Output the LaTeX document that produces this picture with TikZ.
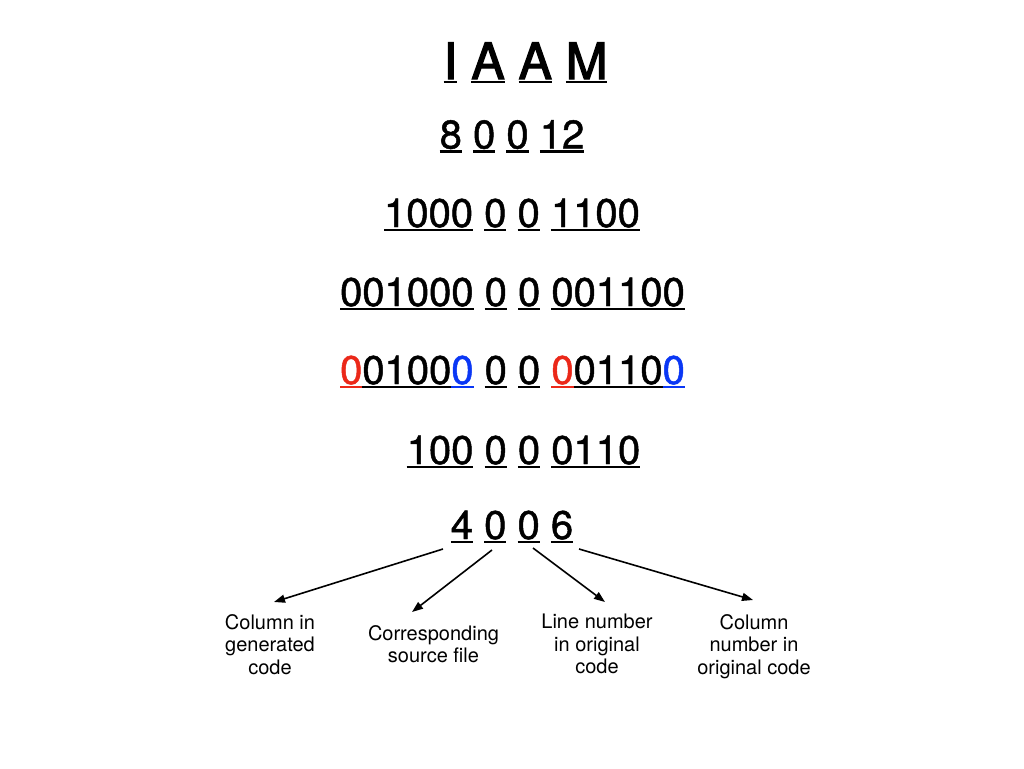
\documentclass[tikz,border=0pt]{standalone}
\usepackage{fontspec}
\setmainfont{TeX Gyre Heros}
\newfontfamily\rowfont[FakeBold=1.2]{TeX Gyre Heros}
\newfontfamily\ttlfont[FakeBold=2.5]{TeX Gyre Heros}
\usetikzlibrary{arrows.meta}
\definecolor{myred}{RGB}{235,40,25}
\definecolor{myblue}{RGB}{10,55,245}
\newsavebox\ulbox
\newcommand\ulx[1]{\sbox\ulbox{#1}\rlap{\rule[-4pt]{\wd\ulbox}{2.5pt}}\usebox\ulbox}
\begin{document}
\begin{tikzpicture}[x=1pt,y=-1pt,
  num/.style={font=\rowfont\fontsize{40}{48}\selectfont, inner sep=0pt, anchor=base},
  ttl/.style={font=\ttlfont\fontsize{50}{58}\selectfont, inner sep=0pt, anchor=base},
  lbl/.style={font=\fontsize{20}{22.5}\selectfont, align=center, inner sep=0pt, anchor=north},
  arr/.style={line width=1.6pt, -{Triangle[length=11pt,width=8pt]}}]
\fill[white] (0,0) rectangle (1024,768);
\useasboundingbox (0,0) rectangle (1024,768);

\node[ttl] (title) at (525.5,79) {\ulx{I} \ulx{A} \ulx{A} \ulx{M}};
\node[num] (r1) at (512,148.5) {\ulx{8} \ulx{0} \ulx{0} \ulx{12}};
\node[num] (r2) at (512,227) {\ulx{1000} \ulx{0} \ulx{0} \ulx{1100}};
\node[num] (r3) at (512.5,306) {\ulx{001000} \ulx{0} \ulx{0} \ulx{001100}};
\node[num] (r4) at (512.5,384) {{\color{myred}\ulx{0}}\ulx{0100}{\color{myblue}\ulx{0}} \ulx{0} \ulx{0} {\color{myred}\ulx{0}}\ulx{0110}{\color{myblue}\ulx{0}}};
\node[num] (r5) at (523.5,464) {\ulx{100} \ulx{0} \ulx{0} \ulx{0110}};
\node[num] (r6) at (512,539) {\ulx{4} \ulx{0} \ulx{0} \ulx{6}};

\node[lbl] (l1) at (270,614) {Column in\\generated\\code};
\node[lbl] (l2) at (433.5,625) {Corresponding\\source file};
\node[lbl] (l3) at (597,614) {Line number\\in original\\code};
\node[lbl] (l4) at (754,614) {Column\\number in\\original code};

\coordinate (s1) at (443,549);
\coordinate (s2) at (492,550);
\coordinate (s3) at (533,548);
\coordinate (s4) at (579,549);
\coordinate (e1) at (274,602);
\coordinate (e2) at (412,612);
\coordinate (e3) at (605,602);
\coordinate (e4) at (753,600);
\draw[arr] (s1) -- (e1);
\draw[arr] (s2) -- (e2);
\draw[arr] (s3) -- (e3);
\draw[arr] (s4) -- (e4);
\end{tikzpicture}
\end{document}
